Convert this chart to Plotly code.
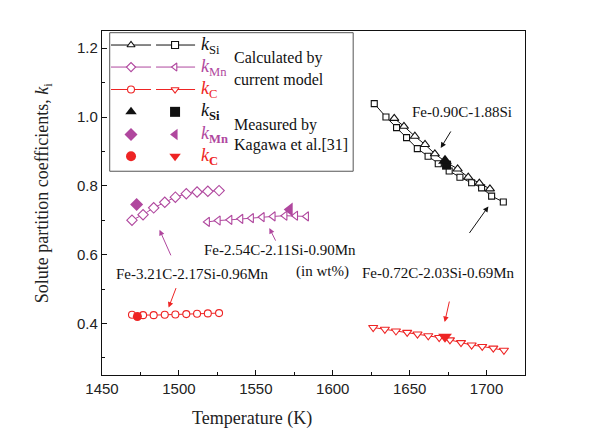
import plotly.graph_objects as go

# ---------------- data ----------------
T_si_tri = [1640, 1646.3, 1653.4, 1660, 1666.4, 1673.6, 1681.2, 1688.1, 1695.3, 1702.2]
k_si_tri = [0.996, 0.973, 0.944, 0.920, 0.893, 0.869, 0.849, 0.825, 0.808, 0.791]

T_si_sq = [1627, 1634.6, 1641.5, 1648, 1655, 1662, 1668.6, 1675.7, 1682.7, 1690.3, 1696.8, 1703.3, 1710.9]
k_si_sq = [1.039, 1.000, 0.969, 0.940, 0.908, 0.886, 0.864, 0.843, 0.825, 0.809, 0.794, 0.770, 0.753]

T_mn_dia = [1469.5, 1476.7, 1483.6, 1490.8, 1497.7, 1504.8, 1511.8, 1518.8, 1526.1]
k_mn_dia = [0.700, 0.716, 0.736, 0.752, 0.767, 0.777, 0.782, 0.784, 0.786]

T_mn_lt = [1518.5, 1525.5, 1533.1, 1540.2, 1547.1, 1554.1, 1561.2, 1568.9, 1575.8, 1582.9]
k_mn_lt = [0.695, 0.699, 0.701, 0.704, 0.706, 0.709, 0.711, 0.713, 0.713, 0.711]

T_c_cir = [1469.5, 1476.7, 1483.6, 1490.8, 1497.7, 1504.8, 1511.8, 1518.8, 1526.1]
k_c_cir = [0.425, 0.424, 0.424, 0.425, 0.426, 0.427, 0.428, 0.429, 0.430]

T_c_dt = [1626.3, 1633.9, 1641.1, 1648.4, 1655.1, 1662.1, 1669.2, 1676.2, 1683.4, 1690.3, 1697.2, 1704.4, 1711.3]
k_c_dt = [0.388, 0.383, 0.378, 0.374, 0.369, 0.364, 0.359, 0.352, 0.344, 0.337, 0.333, 0.328, 0.322]

# measured (Kagawa et al.)
meas_si_tri = (1673, 0.873)
meas_si_sq = (1674, 0.860)
meas_mn_dia = (1472.5, 0.746)
meas_mn_lt = (1572, 0.731)
meas_c_cir = (1473, 0.420)
meas_c_dt = (1673, 0.361)

x_ticks = [1450, 1500, 1550, 1600, 1650, 1700]
y_ticks = [0.4, 0.6, 0.8, 1.0, 1.2]

BLACK = "#111111"
PURPLE = "#B0479E"
RED = "#EE2424"
SERIF = "Liberation Serif"
SANS = "Liberation Sans"

W, H = 589, 432
L, R, TOP, BOT = 94, 516.7, 23.3, 366.7

fig = go.Figure()

def calc(x, y, color, symbol, size):
    fig.add_trace(go.Scatter(
        x=x, y=y, mode="lines+markers",
        line=dict(color=color, width=1),
        marker=dict(symbol=symbol, size=size, color="white",
                    line=dict(color=color, width=1.1)),
        showlegend=False, hoverinfo="skip"))

def meas(pt, color, symbol, size):
    fig.add_trace(go.Scatter(
        x=[pt[0]], y=[pt[1]], mode="markers",
        marker=dict(symbol=symbol, size=size, color=color, line=dict(width=0)),
        showlegend=False, hoverinfo="skip"))

calc(T_si_sq, k_si_sq, BLACK, "square", 6)
calc(T_si_tri, k_si_tri, BLACK, "triangle-up", 8)
calc(T_mn_dia, k_mn_dia, PURPLE, "diamond", 8)
calc(T_mn_lt, k_mn_lt, PURPLE, "triangle-left", 8)
calc(T_c_cir, k_c_cir, RED, "circle", 7)
calc(T_c_dt, k_c_dt, RED, "triangle-down", 8)

meas(meas_si_sq, BLACK, "square", 9)
meas(meas_si_tri, BLACK, "triangle-up", 12)
meas(meas_mn_dia, PURPLE, "diamond", 10)
meas(meas_mn_lt, PURPLE, "triangle-left", 12)
meas(meas_c_cir, RED, "circle", 9)
meas(meas_c_dt, RED, "triangle-down", 12)

# ---------------- legend (drawn in a pixel overlay axis) ----------------
rows = [37.3, 59.3, 81.7, 104, 126.7, 148.3]
leg = [
    (BLACK, "triangle-up", "square", True, "Si"),
    (PURPLE, "diamond", "triangle-left", True, "Mn"),
    (RED, "circle", "triangle-down", True, "C"),
    (BLACK, "triangle-up", "square", False, "Si"),
    (PURPLE, "diamond", "triangle-left", False, "Mn"),
    (RED, "circle", "triangle-down", False, "C"),
]
for yy, (col, s1, s2, is_calc, sub) in zip(rows, leg):
    if is_calc:
        for xa, xb, xm, s in [(103, 143, 123, s1), (148, 187, 167, s2)]:
            fig.add_trace(go.Scatter(
                x=[xa, xb], y=[yy, yy], xaxis="x2", yaxis="y2",
                mode="lines", line=dict(color=col, width=1),
                showlegend=False, hoverinfo="skip"))
            fig.add_trace(go.Scatter(
                x=[xm], y=[yy], xaxis="x2", yaxis="y2", mode="markers",
                marker=dict(symbol=s, size=7, color="white", line=dict(color=col, width=1.1)),
                showlegend=False, hoverinfo="skip"))
        txt = "<i>k</i><sub>%s</sub>" % sub
    else:
        fig.add_trace(go.Scatter(
            x=[123, 167], y=[yy, yy], xaxis="x2", yaxis="y2", mode="markers",
            marker=dict(symbol=[s1, s2], size=10, color=col, line=dict(width=0)),
            showlegend=False, hoverinfo="skip"))
        txt = "<i>k</i><sub><b>%s</b></sub>" % sub
    fig.add_annotation(x=191, y=yy, xref="x2", yref="y2", text=txt, showarrow=False,
                       xanchor="left", yanchor="middle",
                       font=dict(family=SERIF, size=18, color=col))

for txt, yy in [("Calculated by", 50), ("current model", 71.7),
                ("Measured by", 116.7), ("Kagawa et al.[31]", 136.7)]:
    fig.add_annotation(x=224, y=yy, xref="x2", yref="y2", text=txt, showarrow=False,
                       xanchor="left", yanchor="middle",
                       font=dict(family=SERIF, size=16, color=BLACK))

fig.add_shape(type="rect", xref="x2", yref="y2", x0=101.7, x1=345, y0=25, y1=163.3,
              line=dict(color="#555555", width=1), fillcolor="rgba(0,0,0,0)")

# ---------------- annotations ----------------
def label(x, y, text):
    fig.add_annotation(x=x, y=y, text=text, showarrow=False,
                       font=dict(family=SERIF, size=15, color=BLACK))

def arrow(x, y, ax, ay, color):
    fig.add_annotation(x=x, y=y, ax=ax, ay=ay, text="", showarrow=True,
                       arrowhead=2, arrowsize=1.1, arrowwidth=1, arrowcolor=color)

label(1684, 1.015, "Fe-0.90C-1.88Si")
label(1669, 0.546, "Fe-0.72C-2.03Si-0.69Mn")
label(1565.8, 0.613, "Fe-2.54C-2.11Si-0.90Mn")
label(1593.4, 0.552, "(in wt%)")
label(1509, 0.543, "Fe-3.21C-2.17Si-0.96Mn")

arrow(1670.2, 0.910, 11, -18, BLACK)
arrow(1701.2, 0.740, -20, 28, BLACK)
arrow(1672.8, 0.404, 5, -22, RED)
arrow(1558.8, 0.677, 7, 14, PURPLE)
arrow(1487.4, 0.672, 12, 27, PURPLE)
arrow(1493.3, 0.446, 8, -21, RED)

# axis titles
fig.add_annotation(x=0.355, y=-0.125, xref="paper", yref="paper", yanchor="middle",
                   text="Temperature (K)", showarrow=False,
                   font=dict(family=SERIF, size=18, color="#222222"))
fig.add_annotation(x=-0.17, y=0.53, xref="paper", yref="paper", textangle=-90,
                   text="Solute partition coefficients, <i>k</i><sub>i</sub>", showarrow=False,
                   font=dict(family=SERIF, size=18, color="#222222"))

axis_common = dict(showgrid=False, zeroline=False, showline=True, linecolor=BLACK,
                   linewidth=1.2, mirror=True, ticks="inside", ticklen=5, tickwidth=1,
                   tickcolor=BLACK, tickfont=dict(family=SANS, size=15, color="#222222"))

fig.update_layout(
    width=W, height=H,
    margin=dict(l=L, r=W - R, t=TOP, b=H - BOT),
    paper_bgcolor="white", plot_bgcolor="white",
    showlegend=False,
    xaxis=dict(range=[1450, 1725], tickvals=x_ticks,
               minor=dict(dtick=25, ticks="inside", ticklen=3, tickcolor=BLACK),
               **axis_common),
    yaxis=dict(range=[0.25, 1.25], tickvals=y_ticks, tickformat=".1f",
               minor=dict(dtick=0.1, ticks="inside", ticklen=3, tickcolor=BLACK),
               **axis_common),
    xaxis2=dict(overlaying="x", range=[L, R], visible=False, fixedrange=True),
    yaxis2=dict(overlaying="y", range=[BOT, TOP], visible=False, fixedrange=True),
)

fig.write_html("out.html")
